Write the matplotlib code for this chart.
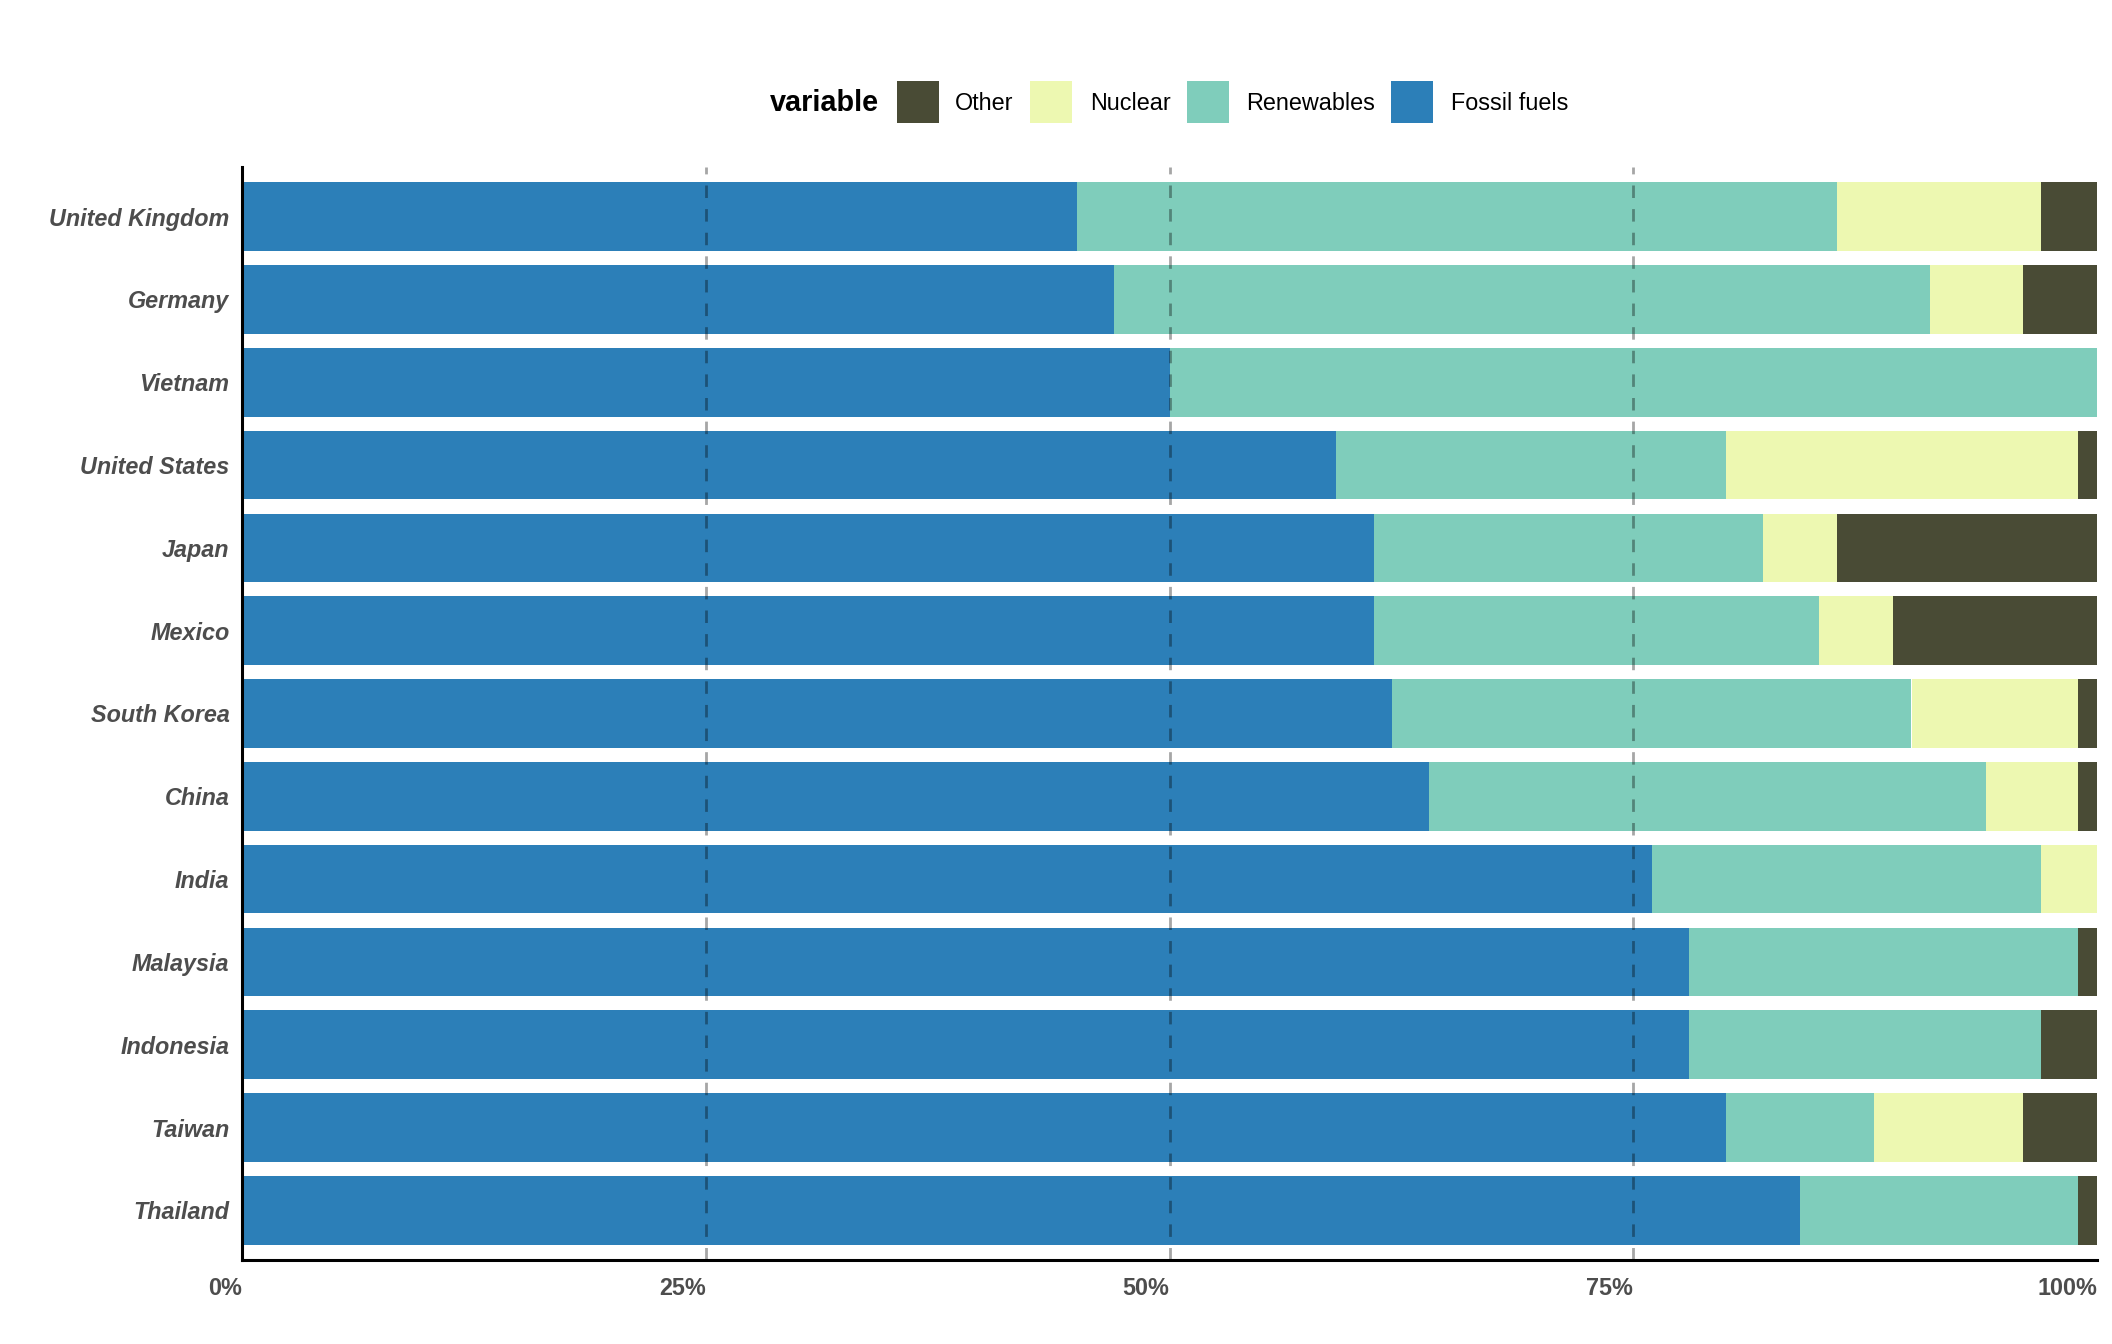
import matplotlib
matplotlib.use('Agg')
import matplotlib.pyplot as plt
from matplotlib.patches import Rectangle
from matplotlib.ticker import FixedLocator, FuncFormatter
import numpy as np

plt.rcParams['font.family'] = ['Liberation Sans', 'DejaVu Sans']

# ── data (share of electricity generation, %) ────────────────────────────────
countries = ['United Kingdom', 'Germany', 'Vietnam', 'United States', 'Japan',
             'Mexico', 'South Korea', 'China', 'India', 'Malaysia',
             'Indonesia', 'Taiwan', 'Thailand']
fossil     = [45, 47, 50, 59, 61, 61, 62, 64, 76, 78, 78, 80, 84]
renewables = [41, 44, 50, 21, 21, 24, 28, 30, 21, 21, 19,  8, 15]
nuclear    = [11,  5,  0, 19,  4,  4,  9,  5,  3,  0,  0,  8,  0]
other      = [ 3,  4,  0,  1, 14, 11,  1,  1,  0,  1,  3,  4,  1]

series = ['Fossil fuels', 'Renewables', 'Nuclear', 'Other']
colors = {'Fossil fuels': '#2c7fb8', 'Renewables': '#7fcdbb',
          'Nuclear': '#edf8b1', 'Other': '#494b35'}
values = {'Fossil fuels': fossil, 'Renewables': renewables,
          'Nuclear': nuclear, 'Other': other}

# normalise to fractions (position = fill)
tot = np.array(fossil) + np.array(renewables) + np.array(nuclear) + np.array(other)
y = np.arange(len(countries))[::-1]

TXT = '#4d4d4d'
FS = 16.8

fig = plt.figure(figsize=(21.12, 13.44), dpi=100)
ax = fig.add_axes([242 / 2112, 84 / 1344, (2097 - 242) / 2112, (1260 - 167) / 1344])

left = np.zeros(len(countries))
for s in series:
    frac = np.array(values[s]) / tot
    ax.barh(y, frac, left=left, height=0.83, color=colors[s], lw=0, zorder=2)
    left += frac

ax.set_xlim(0, 1)
ax.set_ylim(-0.6, len(countries) - 0.4)
ax.set_yticks(y)
ax.set_yticklabels(countries, fontsize=FS, fontweight='bold', fontstyle='italic', color=TXT)
ax.xaxis.set_major_locator(FixedLocator([0, 0.25, 0.5, 0.75, 1.0]))
ax.xaxis.set_major_formatter(FuncFormatter(lambda v, p: f'{v*100:.0f}%'))
for lbl in ax.get_xticklabels():
    lbl.set_fontsize(FS)
    lbl.set_fontweight('bold')
    lbl.set_color(TXT)
    lbl.set_horizontalalignment('right')
ax.tick_params(axis='y', length=0, pad=9)
ax.tick_params(axis='x', length=0, pad=12)

for g in [0.25, 0.5, 0.75]:
    ax.axvline(g, color='black', alpha=0.35, lw=2, ls=(0, (4.5, 4)), zorder=3)

for sp in ['top', 'right']:
    ax.spines[sp].set_visible(False)
for sp in ['left', 'bottom']:
    ax.spines[sp].set_linewidth(2.2)
    ax.spines[sp].set_color('black')
    ax.spines[sp].set_zorder(4)

# ── legend (horizontal, title on the left) ───────────────────────────────────
W, H = 2112, 1344
key = 42
ycen = 102
fig.text(770 / W, 1 - (ycen + 1) / H, 'variable', fontsize=20.8, fontweight='bold',
         ha='left', va='center', color='black')
legend_items = [('Other', 897, 955), ('Nuclear', 1030, 1090),
                ('Renewables', 1187, 1246), ('Fossil fuels', 1391, 1451)]
for name, kx, tx in legend_items:
    fig.patches.append(Rectangle((kx / W, 1 - (ycen + key / 2) / H), key / W, key / H,
                                 transform=fig.transFigure, color=colors[name], lw=0))
    fig.text(tx / W, 1 - (ycen + 1) / H, name, fontsize=FS, ha='left', va='center',
             color='black')

fig.savefig('out.png', dpi=100)
